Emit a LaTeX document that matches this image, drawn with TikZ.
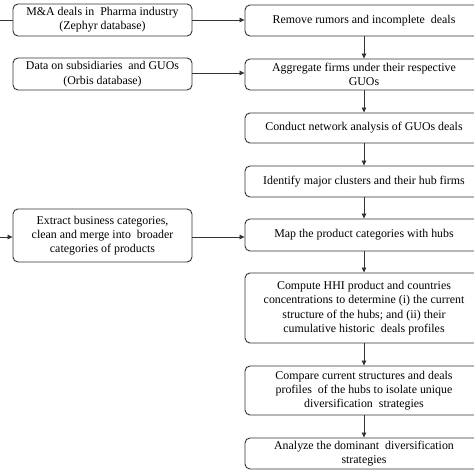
\documentclass[tikz,border=0pt]{standalone}
\usepackage{fontspec}
\setmainfont{Liberation Serif}
\usetikzlibrary{arrows.meta}
\begin{document}
\begin{tikzpicture}[x=1pt,y=-1pt,
  box/.style={draw=black!80, line width=0.9pt, rounded corners=5pt, align=center,
    inner sep=0pt, font=\fontsize{11.9}{14.3}\selectfont},
  rbox/.style={box, minimum width=238pt},
  lbox/.style={box, minimum width=179pt},
  arr/.style={draw=black!80, line width=0.8pt, -{Triangle[length=5pt,width=4.5pt]}},
  ln/.style={draw=black!80, line width=0.8pt}]
\useasboundingbox (0,0) rectangle (474,474);
\begin{scope}
\clip (0,0) rectangle (474,474);
\node[rbox, minimum height=31pt] (r1) at (364,20.5) {Remove rumors and incomplete\ \ deals};
\node[rbox, minimum height=31pt] (r2) at (364,74.5) {Aggregate firms under their respective\\GUOs};
\node[rbox, minimum height=30pt] (r3) at (364,128) {Conduct network analysis of GUOs deals};
\node[rbox, minimum height=31pt] (r4) at (364,181.5) {Identify major clusters and their hub firms};
\node[rbox, minimum height=32pt] (r5) at (364,235) {Map the product categories with hubs};
\node[rbox, minimum height=70pt] (r6) at (364,308) {Compute HHI product and countries\\concentrations to determine (i) the current\\structure of the hubs; and (ii) their\\cumulative historic\ \ deals profiles};
\node[rbox, minimum height=49pt] (r7) at (364,390.5) {Compare current structures and deals\\profiles\ \ of the hubs to isolate unique\\diversification\ \ strategies};
\node[rbox, minimum height=31pt] (r8) at (364,453.5) {Analyze the dominant\ \ diversification\\strategies};
\end{scope}
\node[lbox, minimum height=32pt] (l1) at (102.5,20) {M\&A deals in\ \ Pharma industry\\(Zephyr database)};
\node[lbox, minimum height=32pt] (l2) at (102.5,74) {Data on subsidiaries\ \ and GUOs\\(Orbis database)};
\node[lbox, minimum height=53pt] (l3) at (102.5,235.5) {Extract business categories,\\clean and merge into\ \ broader\\categories of products};
\coordinate (s1) at (0,20);
\coordinate (s3) at (0,237);
\draw[ln] (s1) -- (l1.west);
\draw[arr] (s3) -- (l3.west |- s3);
\draw[arr] (l1.east) -- (r1.west |- l1.east);
\draw[arr] (l2.east |- 0,73) -- (r2.west |- 0,73);
\draw[arr] (l3.east |- s3) -- (r5.west |- s3);
\draw[arr] (r1) -- (r2);
\draw[arr] (r2) -- (r3);
\draw[arr] (r3) -- (r4);
\draw[arr] (r4) -- (r5);
\draw[arr] (r5) -- (r6);
\draw[arr] (r6) -- (r7);
\draw[arr] (r7) -- (r8);
\end{tikzpicture}
\end{document}
